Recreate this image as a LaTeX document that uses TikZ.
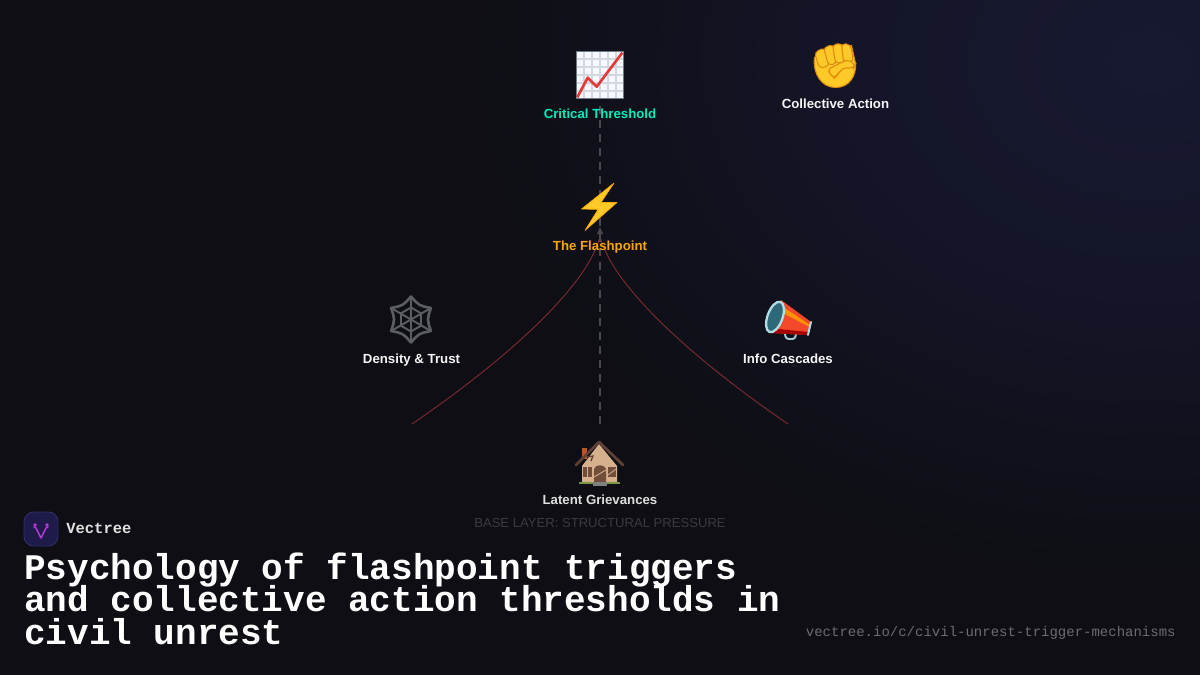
\documentclass[tikz,border=0pt]{standalone}
\usepackage{fontspec}
\setmainfont{Liberation Sans}
\newfontfamily\monofont{Liberation Mono}
\usepackage{tikz}
\usetikzlibrary{arrows.meta, positioning}
\usepackage{xcolor}
\definecolor{bgbase}{RGB}{14, 14, 20}
\definecolor{bgglow}{RGB}{23, 25, 50}
\definecolor{thresholdteal}{RGB}{0, 238, 190}
\definecolor{flashorange}{RGB}{250, 166, 10}
\definecolor{labelwhite}{RGB}{245, 245, 245}
\definecolor{latentgray}{RGB}{222, 222, 222}
\definecolor{basegray}{RGB}{58, 58, 64}
\definecolor{urlgray}{RGB}{108, 108, 112}
\definecolor{dashgray}{RGB}{72, 72, 76}
\definecolor{curvered}{RGB}{128, 44, 50}
\definecolor{chartgrid}{RGB}{208, 217, 224}
\definecolor{chartedge}{RGB}{110, 122, 132}
\definecolor{chartred}{RGB}{229, 57, 53}
\definecolor{fistyellow}{RGB}{255, 202, 40}
\definecolor{fistedge}{RGB}{222, 138, 16}
\definecolor{webgray}{RGB}{90, 94, 98}
\definecolor{hornred}{RGB}{244, 72, 42}
\definecolor{hornrim}{RGB}{176, 222, 230}
\definecolor{hornteal}{RGB}{45, 105, 120}
\definecolor{wallbeige}{RGB}{214, 176, 140}
\definecolor{roofbrown}{RGB}{94, 64, 52}
\definecolor{plankbrown}{RGB}{112, 78, 58}
\definecolor{chimneyred}{RGB}{190, 85, 40}
\definecolor{grassgreen}{RGB}{120, 150, 70}
\definecolor{logofill}{RGB}{30, 27, 75}
\definecolor{logoedge}{RGB}{49, 46, 110}
\definecolor{logopurple}{RGB}{186, 56, 215}
\pgfdeclareradialshading{cornerglow}{\pgfpointorigin}{color(0bp)=(bgglow); color(12bp)=(bgglow!60!bgbase); color(25bp)=(bgbase); color(50bp)=(bgbase)}

\tikzset{
    nodelabel/.style={anchor=base, font=\fontsize{7.53pt}{9pt}\selectfont\bfseries, inner sep=0pt, text=labelwhite},
    guideline/.style={dashgray, line width=1.14pt, dash pattern=on 4.55pt off 3.41pt},
    pullcurve/.style={curvered, line width=0.5pt},
    pics/chartemoji/.style={code={
        \fill[white!97!blue] (-23.5,-23.5) rectangle (23.5,23.5);
        \foreach \g in {-16,-8,0,8,16} {
            \draw[chartgrid, line width=0.65pt] (\g,-23.5) -- (\g,23.5);
            \draw[chartgrid, line width=0.65pt] (-23.5,\g) -- (23.5,\g);
        }
        \draw[chartedge, line width=0.6pt] (-23.5,-23.5) rectangle (23.5,23.5);
        \draw[chartred, line width=1.5pt, line join=round]
            (-22.7,22.3) -- (-12.3,2.7) -- (-3.3,11.7) -- (22.3,-22.3);
    }},
    pics/fistemoji/.style={code={
        \begin{scope}[fill=fistyellow, draw=fistedge, line width=0.6pt]
            \filldraw (-21,-8) .. controls (-23,8) and (-14,22) .. (0,22)
                .. controls (14,22) and (21,10) .. (20,-2) -- (16,-20) -- (-14,-14) -- cycle;
            \filldraw[rounded corners=2.2pt] (-21,-13) -- (-11,-18) -- (-6,0) -- (-16,3) -- cycle;
            \filldraw[rounded corners=2.2pt] (-12,-18) -- (-2,-21) -- (1,-2) -- (-7,0) -- cycle;
            \filldraw[rounded corners=2.2pt] (-3,-21) -- (7,-22) -- (9,-3) -- (0,-2) -- cycle;
            \filldraw[rounded corners=2.2pt] (6,-22) -- (15,-21) -- (18,-4) -- (8,-3) -- cycle;
        \end{scope}
        \fill[orange!85!yellow] (-8,6) -- (3,2) -- (8,3) -- (-1,14) -- cycle;
        \filldraw[fill=fistyellow, draw=fistedge, line width=0.6pt, rounded corners=2.2pt]
            (-8,4) -- (12,-6) -- (20,-1) -- (18,3) -- (8,2) -- (-2,13) -- cycle;
    }},
    pics/boltemoji/.style={code={
        \filldraw[fill=fistyellow, draw=orange!70!yellow, line width=0.35pt, line join=round]
            (14,-23) -- (-18.5,3) -- (-2,3.5) -- (-15,24.5) -- (17,-3.5) -- (1,-3.5) -- cycle;
    }},
    pics/webemoji/.style={code={
        \foreach \a in {30,90,...,330} {
            \draw[webgray, line width=1.1pt] (0,0) -- (\a:23);
            \draw[webgray, line width=1.5pt, line cap=round] (\a:23) .. controls (\a+30:16) .. (\a+60:23);
            \draw[webgray, line width=1.1pt] (\a:12) .. controls (\a+30:10) .. (\a+60:12);
        }
    }},
    pics/hornemoji/.style={code={
        \draw[hornrim!80!gray, line width=1.1pt, rounded corners=1.5pt] (-3,14) -- (-2,19) -- (7,19) -- (8,14);
        \fill[hornred] (-7,-20) -- (23,2) -- (20,15) -- (-16,13) -- cycle;
        \fill[orange!85!yellow] (-5,-13) -- (22,5) -- (21.5,7) -- (-7,-8) -- cycle;
        \fill[red!65!black] (-16,13) -- (20,15) -- (20.5,12) -- (-10,9) -- cycle;
        \draw[hornrim, line width=1.1pt, line cap=round] (23,2) -- (20,15);
        \filldraw[fill=hornteal, draw=hornrim, line width=1.3pt, rotate around={-20:(-13,-3)}]
            (-13,-3) ellipse (7.5 and 16);
    }},
    pics/houseemoji/.style={code={
        \fill[chimneyred] (-18,-15) rectangle (-13,-4);
        \fill[wallbeige] (-18,3) -- (-1,-19) -- (17,3) -- (17,19) -- (-18,19) -- cycle;
        \fill[plankbrown] (-6,19) -- (-6,6) .. controls (-5,1) and (5,1) .. (6,6) -- (6,19) -- cycle;
        \fill[plankbrown] (-17,4) rectangle (-8,14);
        \fill[plankbrown] (8,4) rectangle (16,14);
        \draw[wallbeige, line width=0.5pt] (-6,14) -- (6,7);
        \draw[wallbeige, line width=0.5pt] (8,12) -- (16,6);
        \draw[wallbeige, line width=0.5pt] (-12.5,4) -- (-12.5,14);
        \draw[roofbrown, line width=0.7pt] (-13,-6) -- (-7,-7) -- (-9,-2);
        \draw[roofbrown, line width=1.6pt, line join=round, line cap=round]
            (-24,2) -- (-1,-21) -- (23,2);
        \fill[grassgreen] (-21,18.5) rectangle (20,21);
        \fill[gray] (-7,19) rectangle (7,23);
    }},
    pics/treemark/.style={code={
        \draw[logopurple, line width=0.85pt, line cap=round, line join=round]
            (-7,-3) -- (-5,-2) -- (0,8) -- (5,-2) -- (7,-3);
        \fill[logopurple] (-6,-5) circle (1.8);
        \fill[logopurple] (6,-5) circle (1.8);
    }}
}

\begin{document}
\begin{tikzpicture}[x=0.02cm, y=-0.02cm]
    % Background
    \useasboundingbox (0,0) rectangle (1200,675);
    \fill[bgbase] (0,0) rectangle (1200,675);
    \begin{scope}
        \clip (0,0) rectangle (1200,675);
        \shade[shading=cornerglow] (1150,60) ellipse (680 and 520);
    \end{scope}

    % Connectors
    \coordinate (latentfoot) at (600,424);
    \coordinate (flashtip) at (600,226);
    \coordinate (flashjoin) at (600,236);
    \coordinate (thresholdfoot) at (600,103);
    \coordinate (densityfoot) at (412,424);
    \coordinate (cascadefoot) at (788,424);
    \draw[pullcurve] (densityfoot) .. controls (520,350) and (590,280) .. (flashjoin);
    \draw[pullcurve] (cascadefoot) .. controls (680,350) and (610,280) .. (flashjoin);
    \draw[guideline, -{Latex[length=4.6pt,width=3.8pt]}] (latentfoot) -- (flashtip);
    \draw[guideline] (flashtip) -- (thresholdfoot);

    % Icons
    \pic at (600,75) {chartemoji};
    \pic at (835.5,65.5) {fistemoji};
    \pic at (600,206) {boltemoji};
    \pic at (411,319.5) {webemoji};
    \pic at (788,320) {hornemoji};
    \pic at (600,463) {houseemoji};

    % Labels
    \node[nodelabel, text=thresholdteal] (thresholdlabel) at (600,119) {Critical Threshold};
    \node[nodelabel] (actionlabel) at (835.5,109) {Collective Action};
    \node[nodelabel, text=flashorange] (flashlabel) at (600,251) {The Flashpoint};
    \node[nodelabel] (densitylabel) at (411.5,364) {Density \& Trust};
    \node[nodelabel] (cascadelabel) at (788,364) {Info Cascades};
    \node[nodelabel, text=latentgray] (latentlabel) at (600,504) {Latent Grievances};
    \node[anchor=base, inner sep=0pt, text=basegray, font=\fontsize{7.45pt}{9pt}\selectfont] (baselabel) at (600,527) {BASE LAYER: STRUCTURAL PRESSURE};

    % Brand and title
    \filldraw[fill=logofill, draw=logoedge, line width=0.5pt, rounded corners=5.5pt] (24,512) rectangle (58,546);
    \pic at (41,530) {treemark};
    \node[anchor=west, inner sep=0pt, text=labelwhite!92!black, font=\monofont\bfseries\fontsize{8.82pt}{11pt}\selectfont] (brandname) at (66,528.5) {Vectree};
    \node[anchor=north west, inner sep=0pt, align=left, text=white, font=\monofont\bfseries\fontsize{20.49pt}{18.44pt}\selectfont\lineskiplimit-50pt] (titletext) at (24,552.5) {Psychology of flashpoint triggers\\and collective action thresholds in\\civil unrest};
    \node[anchor=east, inner sep=0pt, text=urlgray, font=\monofont\fontsize{7.97pt}{10pt}\selectfont] (urltext) at (1176,633) {vectree.io/c/civil-unrest-trigger-mechanisms};
\end{tikzpicture}
\end{document}
